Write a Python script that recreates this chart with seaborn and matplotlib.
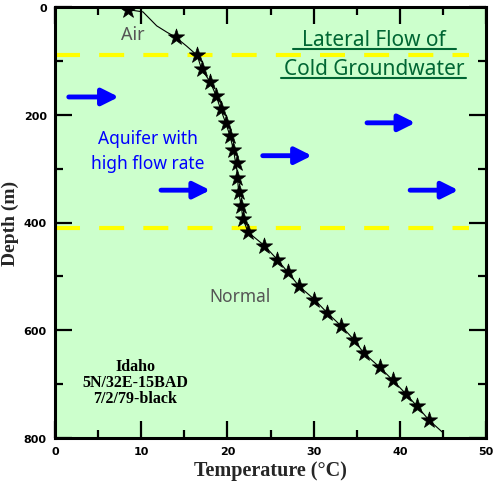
import matplotlib
matplotlib.use("Agg")
import matplotlib.pyplot as plt
import seaborn as sns
import pandas as pd

# measured log, stars
star_temp = [8.5, 14.0, 16.5, 17.0, 18.0, 18.7, 19.2, 19.8, 20.3, 20.7, 21.1, 21.1,
             21.3, 21.6, 21.8, 22.4, 24.3, 25.8, 27.0, 28.3, 30.1, 31.6, 33.2, 34.7,
             35.8, 37.7, 39.2, 40.7, 42.0, 43.4]
star_depth = [5, 56, 90, 115, 139, 165, 189, 215, 239, 265, 289, 317,
              343, 369, 393, 418, 443, 469, 492, 518, 543, 568, 592, 618,
              642, 669, 693, 718, 741, 767]

# continuous log line
line_temp = [8.5, 10.2, 11.8, 13.0, 14.0, 15.3, 16.5, 17.0, 18.0, 18.7, 19.2, 19.8, 20.3,
             20.7, 21.1, 21.1, 21.3, 21.6, 21.8, 22.4, 24.3, 25.8, 27.0, 28.3, 30.1,
             31.6, 33.2, 34.7, 35.8, 37.7, 39.2, 40.7, 42.0, 43.4, 45.0]
line_depth = [5, 9, 35, 47, 56, 73, 90, 115, 139, 165, 189, 215, 239,
              265, 289, 317, 343, 369, 393, 418, 443, 469, 492, 518, 543,
              568, 592, 618, 642, 669, 693, 718, 741, 767, 790]

aquifer_bounds = [90, 411]
arrow_start = [1.6, 12.3, 24.1, 36.2, 41.2]
arrow_end = [7.4, 18.0, 29.8, 41.8, 46.8]
arrow_depth = [167, 340, 276, 215, 340]

stars = pd.DataFrame({"Temperature": star_temp, "Depth": star_depth})
log = pd.DataFrame({"Temperature": line_temp, "Depth": line_depth})

sns.set_style("ticks")
plt.rcParams["font.family"] = ["DejaVu Sans"]

fig = plt.figure(figsize=(4.94, 4.85), dpi=100)
ax = fig.add_axes([55 / 494, 1 - 439 / 485, 431 / 494, 431 / 485])
ax.set_facecolor("#ccffcc")

for d in aquifer_bounds:
    ax.plot([0, 48], [d, d], color="#ffff00", lw=3, ls=(0, (6, 4.6)), zorder=1)

sns.lineplot(data=log, x="Temperature", y="Depth", sort=False, color="black",
             lw=0.8, ax=ax, zorder=2)
sns.scatterplot(data=stars, x="Temperature", y="Depth", marker="*", s=150,
                color="black", edgecolor="black", linewidth=0.5, ax=ax, zorder=3)

for x0, x1, d in zip(arrow_start, arrow_end, arrow_depth):
    ax.annotate("", xy=(x1, d), xytext=(x0, d),
                arrowprops=dict(arrowstyle="-|>,head_length=1.0,head_width=0.5",
                                color="#0000ff", lw=3.5, shrinkA=0, shrinkB=0))

comic = ["Noto Sans", "DejaVu Sans"]
ax.text(9.0, 50, "Air", color="#555555", fontsize=13, ha="center", va="center",
        family=comic)
ax.text(10.8, 244, "Aquifer with", color="#0000ff", fontsize=12.5,
        ha="center", va="center", family=comic)
ax.text(10.8, 290, "high flow rate", color="#0000ff", fontsize=12.5,
        ha="center", va="center", family=comic)
ax.text(21.5, 536, "Normal", color="#555555", fontsize=12.5, ha="center",
        va="center", family=comic)
ax.text(37.0, 60, "Lateral Flow of", color="#006633", fontsize=15, ha="center",
        va="center", family=comic)
ax.text(37.0, 115, "Cold Groundwater", color="#006633", fontsize=15, ha="center",
        va="center", family=comic)
ax.plot([27.6, 46.5], [78, 78], color="#006633", lw=1.5)
ax.plot([26.2, 47.7], [132, 132], color="#006633", lw=1.5)
ax.text(9.3, 696, "Idaho\n5N/32E-15BAD\n7/2/79-black", color="black", fontsize=11.5,
        ha="center", va="center", family="Liberation Serif", fontweight="bold",
        linespacing=1.0)

ax.set_xlim(0, 50)
ax.set_ylim(800, 0)
ax.set_xticks([0, 10, 20, 30, 40, 50])
ax.set_xticks([5, 15, 25, 35, 45], minor=True)
ax.set_yticks([0, 200, 400, 600, 800])
ax.set_yticks([100, 300, 500, 700], minor=True)
ax.tick_params(which="both", direction="in", top=True, right=True, width=1.6,
               colors="black", labelsize=8, pad=6)
ax.tick_params(which="major", length=12)
ax.tick_params(which="minor", length=6)
for lab in ax.get_xticklabels() + ax.get_yticklabels():
    lab.set_fontweight("bold")
for sp in ax.spines.values():
    sp.set_linewidth(2.2)
    sp.set_color("black")

ax.set_xlabel("Temperature (°C)", family="Liberation Serif", fontweight="bold",
              fontsize=14.5, labelpad=3)
ax.set_ylabel("Depth (m)", family="Liberation Serif", fontweight="bold",
              fontsize=14, labelpad=3)

fig.savefig("out.png", dpi=100, facecolor="white")
